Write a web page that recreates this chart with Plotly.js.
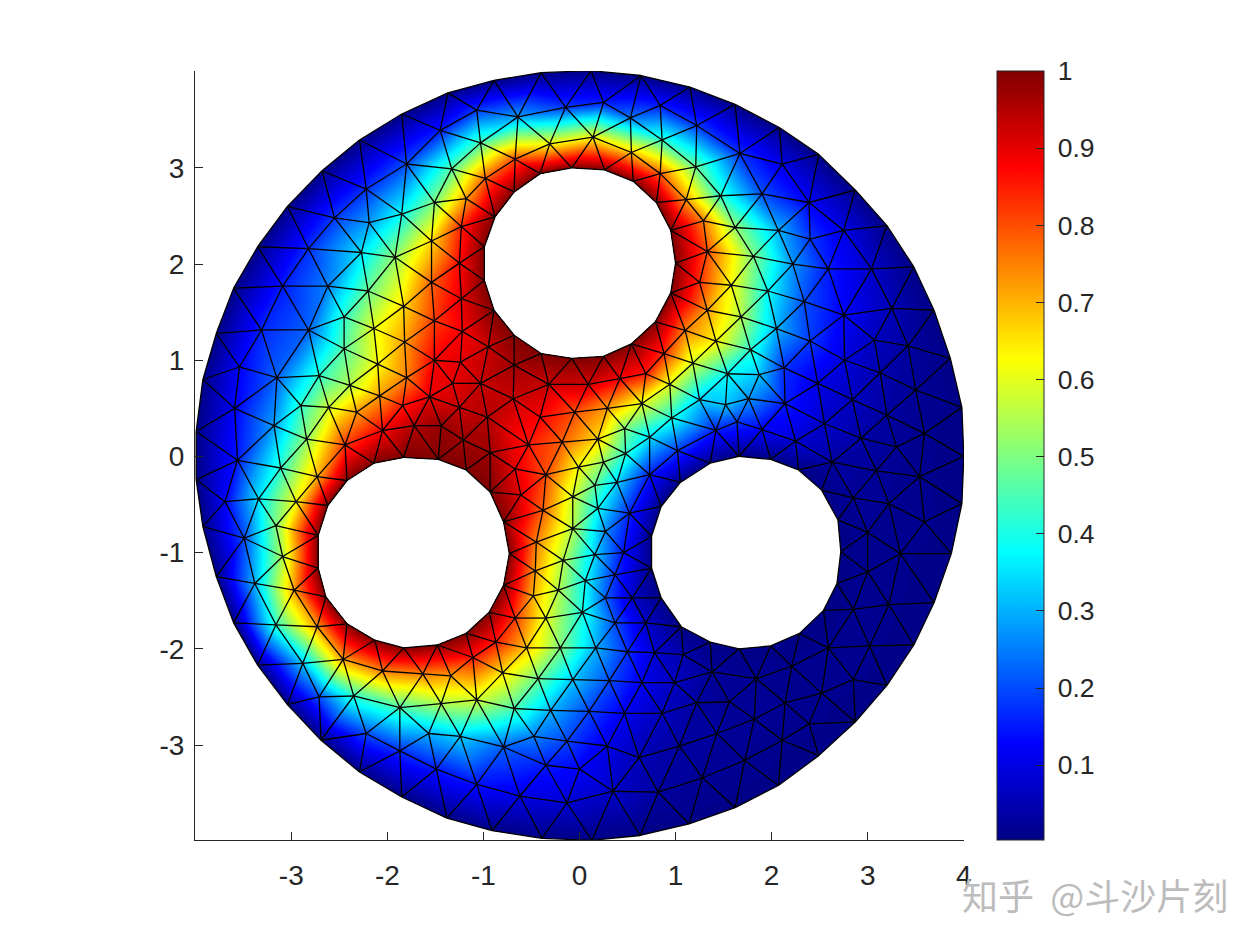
<!DOCTYPE html>
<html><head><meta charset="utf-8">
<script src="https://cdn.plot.ly/plotly-3.0.1.min.js"></script>
<style>html,body{margin:0;padding:0;background:#fff}</style></head>
<body><div id="chart" style="width:1260px;height:945px"></div>
<script>
const tickValues = [-3,-2,-1,0,1,2,3,4];
const tickLabelsX = ['-3','-2','-1','0','1','2','3','4'];
const yTickValues = [-3,-2,-1,0,1,2,3];
const yTickLabels = ['-3','-2','-1','0','1','2','3'];
const barTicks = [0.1,0.2,0.3,0.4,0.5,0.6,0.7,0.8,0.9,1];
const barLabels = ['0.1','0.2','0.3','0.4','0.5','0.6','0.7','0.8','0.9','1'];
const watermark = '知乎\u00a0\u00a0@斗沙片刻';
const jetStops = [0,0.125,0.375,0.625,0.875,1];
const jetRGB = [[0,0,132],[0,0,255],[0,255,255],[255,255,0],[255,0,0],[128,0,0]];

const outerRim = [[.12,4.01],[.64,3.96],[1.15,3.84],[1.62,3.66],[2.08,3.42],[2.49,3.14],[2.87,2.77],[3.20,2.40],[3.48,1.97],[3.69,1.52],[3.86,1.02],[3.98,.51],[4.0,0],[3.98,-.49],[3.87,-1.01],[3.69,-1.52],[3.48,-1.96],[3.20,-2.38],[2.87,-2.76],[2.49,-3.11],[2.07,-3.42],[1.62,-3.65],[1.14,-3.82],[.63,-3.94],[.13,-3.99],[-.39,-3.97],[-.91,-3.89],[-1.38,-3.76],[-1.85,-3.54],[-2.29,-3.28],[-2.69,-2.95],[-3.04,-2.58],[-3.35,-2.17],[-3.60,-1.73],[-3.78,-1.25],[-3.92,-.73],[-3.99,-.24],[-3.99,.26],[-3.92,.80],[-3.78,1.28],[-3.60,1.75],[-3.35,2.18],[-3.04,2.60],[-2.68,2.97],[-2.29,3.29],[-1.85,3.56],[-1.37,3.78],[-.89,3.91],[-.40,3.99]];
const holeLeft = [[-1.83,-.01],[-1.47,-.03],[-1.18,-.14],[-.93,-.37],[-.79,-.68],[-.73,-1.01],[-.79,-1.34],[-.94,-1.62],[-1.18,-1.84],[-1.48,-1.96],[-1.83,-1.99],[-2.13,-1.91],[-2.42,-1.74],[-2.64,-1.46],[-2.72,-1.16],[-2.72,-.82],[-2.62,-.51],[-2.42,-.25],[-2.14,-.07]];
const holeTop = [[-.08,3.0],[.26,2.98],[.56,2.86],[.80,2.64],[.95,2.35],[1.0,2.01],[.95,1.70],[.79,1.40],[.54,1.17],[.25,1.04],[-.08,1.02],[-.40,1.07],[-.68,1.26],[-.89,1.52],[-.99,1.83],[-.99,2.18],[-.88,2.49],[-.68,2.75],[-.41,2.94]];
const holeRight = [[1.36,-.07],[1.66,0],[1.99,-.03],[2.28,-.14],[2.52,-.35],[2.69,-.66],[2.72,-.99],[2.68,-1.32],[2.54,-1.60],[2.29,-1.84],[1.99,-1.97],[1.66,-2.0],[1.36,-1.93],[1.06,-1.77],[.85,-1.47],[.75,-1.16],[.75,-.83],[.85,-.52],[1.05,-.27]];
const rimValue = 0.003, hotValue = 1, coldValue = 0.003;

// interior mesh nodes: x, y, value
const upperLeftNodes = [[-1.45,3.39,.15],[-1.80,3.04,.2],[-2.22,2.78,.17],[-1.33,2.99,.46],[-1.51,2.64,.5],[-1.85,2.52,.38],[-2.19,2.43,.28],[-2.55,2.48,.18],[-1.54,2.24,.66],[-1.92,2.07,.52],[-2.27,2.12,.35],[-2.82,2.16,.17],[-1.54,1.81,.78],[-2.20,1.72,.48],[-2.62,1.77,.25],[-3.09,1.77,.15],[-1.83,1.56,.66],[-2.45,1.45,.42],[-2.14,1.33,.6],[-1.51,1.41,.82]];
const leftNodes = [[-3.31,1.315,.16],[-2.82,1.315,.22],[-2.45,1.12,.46],[-1.82,1.19,.72],[-1.51,1.00,.88],[-3.54,.93,.12],[-3.15,.82,.22],[-2.71,.84,.42],[-2.10,.96,.62],[-1.80,.82,.75],[-2.39,.74,.55],[-2.08,.63,.72],[-1.56,.62,.9],[-1.84,.53,.85],[-2.90,.53,.42],[-2.61,.51,.58],[-2.32,.46,.72],[-3.59,.50,.12],[-3.18,.32,.28],[-1.72,.32,.95],[-1.44,.32,.98],[-2.05,.27,.88],[-2.84,.18,.52],[-2.44,.12,.82],[-3.56,-.04,.15],[-3.11,-.12,.42],[-2.73,-.21,.7],[-3.34,-.44,.35],[-2.95,-.47,.62],[-3.69,-.47,.12],[-3.16,-.72,.5],[-3.49,-.85,.2],[-3.09,-1.04,.55],[-3.38,-1.32,.3]];
const topNodes = [[-1.07,3.60,.18],[-.64,3.53,.28],[-.145,3.63,.18],[.25,3.68,.15],[.53,3.52,.24],[.84,3.65,.15],[1.22,3.44,.18],[-1.03,3.26,.45],[-.31,3.25,.62],[.14,3.32,.62],[.86,3.29,.42],[.54,3.16,.68],[-.67,3.09,.8],[-.98,2.89,.78],[1.21,3.01,.48],[.84,2.94,.78],[1.11,2.67,.72],[-1.18,2.68,.72],[1.29,2.45,.75],[-1.23,2.39,.84],[1.33,2.13,.8],[-1.25,2.01,.87],[1.25,1.81,.83],[-1.23,1.64,.9],[1.33,1.52,.72]];
const upperRightNodes = [[1.67,3.15,.17],[2.11,3.04,.1],[1.90,2.73,.2],[2.39,2.64,.12],[1.47,2.71,.42],[1.62,2.38,.52],[2.07,2.35,.3],[2.40,2.26,.18],[2.75,2.35,.1],[1.81,2.08,.5],[2.22,2.00,.27],[2.59,1.95,.15],[3.04,1.95,.07],[1.58,1.78,.62],[1.96,1.72,.38],[2.34,1.61,.2],[2.75,1.47,.12],[3.25,1.54,.05],[1.68,1.45,.55],[2.05,1.33,.3]];
const centreNodes = [[-1.22,1.30,.88],[-.95,1.14,.93],[-.68,.95,.97],[-1.24,.98,.9],[-1.03,.76,.93],[-.32,.75,.93],[.09,.75,.92],[.42,.81,.88],[.69,.86,.85],[.88,1.07,.83],[1.10,1.31,.75],[1.18,.97,.58],[.94,.75,.6],[-1.32,.76,.9],[-.69,.60,.93],[-1.25,.51,.93],[-.96,.41,.95],[-.41,.41,.88],[-.05,.46,.8],[.29,.50,.72],[.65,.55,.6],[.96,.40,.4],[1.25,.59,.33],[.47,.29,.5],[.73,.20,.35],[-1.21,.17,.97],[-.93,.04,.97],[-.53,.12,.85],[-.18,.15,.78],[.19,.18,.66],[.48,.03,.42],[1.02,.06,.18],[1.42,.27,.15],[-.67,-.13,.9],[-.35,-.19,.8],[-.01,-.11,.62],[.25,-.06,.52],[.73,-.19,.15],[.16,-.30,.47],[.39,-.27,.33],[-.61,-.40,.9],[-.07,-.42,.58],[-.38,-.56,.78],[.19,-.54,.38],[.52,-.59,.16],[-.07,-.75,.55],[.27,-.78,.26],[-.45,-.89,.75],[.16,-1.02,.33],[.46,-1.00,.14],[-.17,-1.08,.55],[-.46,-1.19,.72],[.06,-1.29,.38],[.37,-1.23,.17]];
const rightNodes = [[1.42,1.20,.63],[1.78,1.11,.42],[2.40,1.20,.18],[2.76,1.00,.09],[3.07,1.21,.06],[3.42,1.15,.03],[2.13,.92,.17],[1.54,.86,.38],[1.87,.85,.32],[3.13,.87,.04],[2.48,.76,.1],[3.50,.69,.02],[1.76,.60,.27],[1.52,.54,.32],[2.14,.55,.15],[2.84,.59,.06],[1.64,.36,.18],[3.20,.43,.03],[1.90,.28,.12],[2.55,.34,.07],[3.59,.24,.01],[2.25,.16,.08],[2.93,.19,.035],[3.30,.10,.02],[2.63,-.06,.03],[3.09,-.15,.02],[3.54,-.21,.01],[2.85,-.43,.02],[3.22,-.49,.015],[3.59,-.68,.01],[3.00,-.79,.015],[3.34,-1.01,.01],[3.00,-1.20,.015]];
const lowerLeftNodes = [[-2.97,-1.39,.72],[-3.16,-1.75,.42],[-2.73,-1.77,.72],[-2.46,-2.11,.72],[-2.88,-2.15,.32],[-2.05,-2.23,.75],[-1.63,-2.26,.75],[-1.34,-2.28,.72],[-2.71,-2.50,.2],[-2.35,-2.49,.42],[-1.87,-2.61,.45],[-1.44,-2.57,.55],[-2.22,-2.88,.2],[-1.57,-2.88,.3],[-1.87,-3.06,.17],[-1.49,-3.25,.15]];
const bottomNodes = [[-.67,-1.68,.82],[-.35,-1.68,.6],[-.48,-1.45,.7],[-.22,-1.39,.55],[.03,-1.62,.4],[.27,-1.47,.22],[.55,-1.47,.07],[.37,-1.73,.2],[.69,-1.73,.07],[-.87,-1.93,.85],[-.55,-1.99,.68],[-.20,-1.99,.5],[.17,-1.99,.3],[.50,-2.03,.17],[.78,-2.04,.08],[1.08,-2.06,.04],[-1.11,-2.09,.85],[-.80,-2.25,.65],[-.43,-2.31,.48],[-.07,-2.32,.32],[.31,-2.33,.2],[.65,-2.35,.11],[.99,-2.35,.06],[1.38,-2.24,.02],[-1.07,-2.53,.58],[-.68,-2.62,.45],[-.30,-2.64,.3],[.10,-2.65,.19],[.47,-2.67,.11],[.86,-2.67,.06],[1.22,-2.56,.03],[-1.24,-2.91,.33],[-.79,-3.02,.22],[-.475,-2.91,.25],[-.13,-2.96,.19],[.29,-3.01,.1],[.62,-3.13,.05],[1.04,-3.01,.03],[-.35,-3.21,.15],[.00,-3.25,.12],[-1.07,-3.41,.14],[1.28,-3.34,.02],[-.62,-3.53,.1],[.35,-3.48,.07],[.82,-3.49,.03],[-.13,-3.60,.08]];
const lowerRightNodes = [[2.85,-1.59,.01],[3.22,-1.54,.01],[2.59,-1.99,.01],[3.02,-1.97,.01],[1.84,-2.31,.015],[2.21,-2.18,.01],[2.85,-2.32,.01],[1.56,-2.55,.02],[2.14,-2.56,.015],[2.52,-2.46,.01],[1.82,-2.73,.02],[2.39,-2.78,.01],[1.43,-2.88,.025],[2.11,-2.95,.01],[1.72,-3.16,.015]];

const nodes = [].concat(
  outerRim.map(p=>[p[0],p[1],rimValue]),
  holeLeft.map(p=>[p[0],p[1],hotValue]),
  holeTop.map(p=>[p[0],p[1],hotValue]),
  holeRight.map(p=>[p[0],p[1],coldValue]),
  upperLeftNodes,leftNodes,topNodes,upperRightNodes,centreNodes,rightNodes,lowerLeftNodes,bottomNodes,lowerRightNodes);

// Delaunay connectivity (Bowyer-Watson) of the read-off nodes
function delaunay(pts){
  const P = pts.map(p=>[p[0],p[1]]); const n=P.length;
  P.push([-100,-100],[100,-100],[0,100]);
  let tris=[[n,n+1,n+2]];
  const inCirc=(t,p)=>{
    const [a,b,c]=t.map(i=>P[i]);
    const ax=a[0]-p[0],ay=a[1]-p[1],bx=b[0]-p[0],by=b[1]-p[1],cx=c[0]-p[0],cy=c[1]-p[1];
    const d=(ax*ax+ay*ay)*(bx*cy-cx*by)-(bx*bx+by*by)*(ax*cy-cx*ay)+(cx*cx+cy*cy)*(ax*by-bx*ay);
    const o=(b[0]-a[0])*(c[1]-a[1])-(b[1]-a[1])*(c[0]-a[0]);
    return o>0? d>0 : d<0;
  };
  for(let i=0;i<n;i++){
    const bad=[],keep=[];
    tris.forEach(t=>(inCirc(t,P[i])?bad:keep).push(t));
    const edges={};
    bad.forEach(t=>[[t[0],t[1]],[t[1],t[2]],[t[2],t[0]]].forEach(e=>{
      const k=Math.min(e[0],e[1])+'_'+Math.max(e[0],e[1]);
      edges[k]=(k in edges)?0:e;
    }));
    tris=keep;
    Object.values(edges).forEach(e=>{ if(e) tris.push([e[0],e[1],i]); });
  }
  return tris.filter(t=>t.every(i=>i<n));
}
function inside(poly,x,y){
  let c=false;
  for(let i=0,j=poly.length-1;i<poly.length;j=i++){
    if((poly[i][1]>y)!==(poly[j][1]>y)&&x<(poly[j][0]-poly[i][0])*(y-poly[i][1])/(poly[j][1]-poly[i][1])+poly[i][0]) c=!c;
  }
  return c;
}
const tris = delaunay(nodes).filter(t=>{
  const x=(nodes[t[0]][0]+nodes[t[1]][0]+nodes[t[2]][0])/3, y=(nodes[t[0]][1]+nodes[t[1]][1]+nodes[t[2]][1])/3;
  return inside(outerRim,x,y)&&!inside(holeLeft,x,y)&&!inside(holeTop,x,y)&&!inside(holeRight,x,y);
});

// colour levels: each triangle is cut at the levels; each level paints everything at or above it
const bandCount = 128;
function jetColor(v){
  let s=0; while(s<jetStops.length-2&&v>jetStops[s+1]) s++;
  const f=Math.max(0,Math.min(1,(v-jetStops[s])/(jetStops[s+1]-jetStops[s])));
  return 'rgb('+jetRGB[s].map((c,i)=>Math.round(c+(jetRGB[s+1][i]-c)*f)).join(',')+')';
}
const jet = jetStops.map(s=>[s,jetColor(s)]);
function clipAbove(poly,level){
  const out=[];
  for(let i=0;i<poly.length;i++){
    const a=poly[i],b=poly[(i+1)%poly.length];
    const ai=a[2]>=level, bi=b[2]>=level;
    if(ai) out.push(a);
    if(ai!==bi){ const f=(level-a[2])/(b[2]-a[2]); out.push([a[0]+(b[0]-a[0])*f,a[1]+(b[1]-a[1])*f,level]); }
  }
  return out;
}
const bandX=[],bandY=[];
for(let b=0;b<bandCount;b++){bandX.push([]);bandY.push([]);}
tris.forEach(t=>{
  const tri=t.map(i=>nodes[i]);
  const vs=tri.map(p=>p[2]);
  const lo=Math.max(0,Math.floor(Math.min(...vs)*bandCount)), hi=Math.min(bandCount-1,Math.floor(Math.max(...vs)*bandCount));
  for(let b=lo;b<=hi;b++){
    const poly=b===lo?tri:clipAbove(tri,b/bandCount);
    if(poly.length<3) continue;
    poly.forEach(p=>{bandX[b].push(p[0]);bandY[b].push(p[1]);});
    bandX[b].push(poly[0][0],null);bandY[b].push(poly[0][1],null);
  }
});
const seen={},lx=[],ly=[];
tris.forEach(t=>[[t[0],t[1]],[t[1],t[2]],[t[2],t[0]]].forEach(e=>{
  const k=Math.min(e[0],e[1])+'_'+Math.max(e[0],e[1]);
  if(seen[k])return; seen[k]=1;
  lx.push(nodes[e[0]][0],nodes[e[1]][0],null);
  ly.push(nodes[e[0]][1],nodes[e[1]][1],null);
}));

const ink='#262626';
const data=[];
for(let b=0;b<bandCount;b++){
  if(!bandX[b].length) continue;
  const c=jetColor((b+0.5)/bandCount);
  data.push({type:'scatter',mode:'none',x:bandX[b],y:bandY[b],fill:'toself',fillcolor:c,hoverinfo:'skip',showlegend:false});
}
data.push({type:'scatter',mode:'lines',x:lx,y:ly,line:{color:'#000',width:1.3},hoverinfo:'skip',showlegend:false});
data.push({type:'scatter',mode:'markers',x:[null],y:[null],hoverinfo:'skip',showlegend:false,
  marker:{color:[0.5],cmin:0.003,cmax:1,colorscale:jet,showscale:true,size:1,
   colorbar:{x:803/770,xanchor:'left',y:0,yanchor:'bottom',len:1,lenmode:'fraction',thickness:47,thicknessmode:'pixels',xpad:0,ypad:0,
    tickmode:'array',tickvals:barTicks,ticktext:barLabels.map(s=>'\u00a0'+s),ticks:'inside',ticklen:8,tickcolor:ink,tickwidth:1,
    outlinecolor:ink,outlinewidth:1,tickfont:{family:'Liberation Sans, Arial, sans-serif',size:26.5,color:ink}}}});
const layout={
 width:1260,height:945,paper_bgcolor:'#fff',plot_bgcolor:'#fff',showlegend:false,
 margin:{l:194.5,r:295.5,t:71,b:105,pad:0},
 font:{family:'Liberation Sans, Arial, sans-serif',color:ink},
 xaxis:{range:[-4.002,4.002],tickmode:'array',tickvals:tickValues,ticktext:tickLabelsX,ticks:'inside',ticklen:8,tickcolor:ink,ticklabelstandoff:10,
   showgrid:false,zeroline:false,showline:true,linecolor:ink,linewidth:1,tickfont:{size:28,color:ink}},
 yaxis:{range:[-3.987,4.007],tickmode:'array',tickvals:yTickValues,ticktext:yTickLabels,ticks:'inside',ticklen:8,tickcolor:ink,ticklabelstandoff:4,
   showgrid:false,zeroline:false,showline:true,linecolor:ink,linewidth:1,tickfont:{size:28,color:ink}},
 annotations:[{xref:'paper',yref:'paper',x:765.5/770,y:-54/769,xanchor:'left',yanchor:'middle',showarrow:false,text:watermark,
   font:{family:'Noto Sans CJK SC',size:36,color:'#bcbcbc'}}]
};
Plotly.newPlot('chart',data,layout,{displayModeBar:false,staticPlot:true});
</script></body></html>
